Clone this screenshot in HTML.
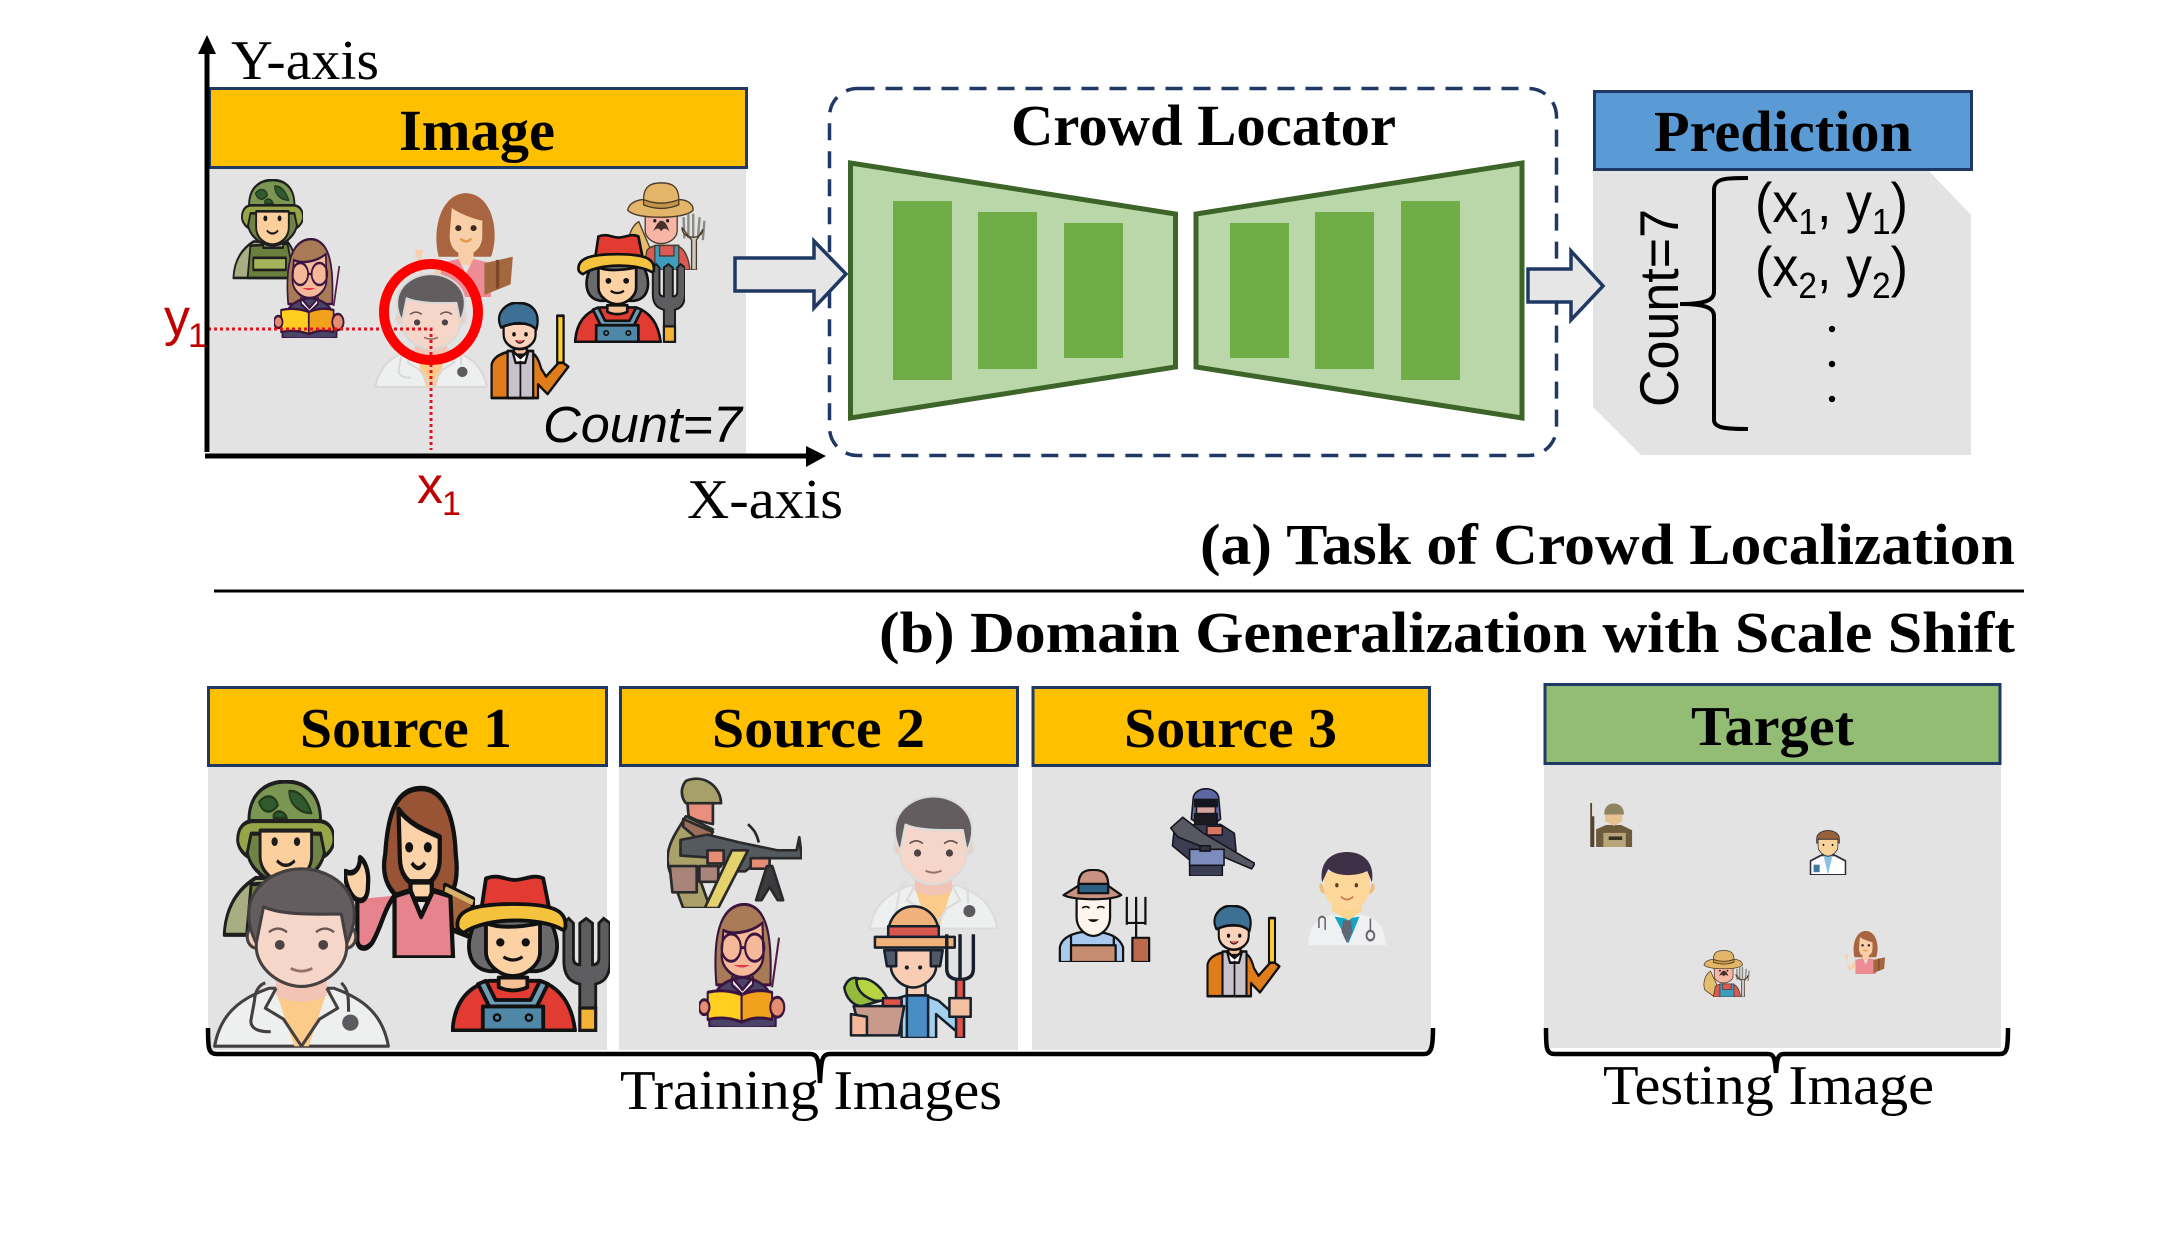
<!DOCTYPE html>
<html><head><meta charset="utf-8"><style>
html,body{margin:0;padding:0;background:#fff}
svg{display:block}
.s{font-family:"Liberation Serif",serif}
.a{font-family:"Liberation Sans",sans-serif}
</style></head><body>
<svg width="2178" height="1247" viewBox="0 0 2178 1247" xmlns="http://www.w3.org/2000/svg">
<defs>
<symbol id="soldier" viewBox="0 0 100 100" preserveAspectRatio="none">
<g stroke="#1f1f1f" stroke-width="2.6" stroke-linejoin="round">
<path d="M2 98C3 82 12 70 30 62L78 62C88 70 92 85 92 98Z" fill="#a9ae82"/>
<path d="M22 98L26 66L78 64L88 98Z" fill="#6b7f3e"/>
<path d="M30 78H76V90H30Z" fill="#a5b45a"/>
<path d="M44 60H72V68H44Z" fill="#c4c98f"/>
<path d="M26 32C18 38 22 52 32 58C44 68 70 68 82 58C92 52 96 38 88 32Z" fill="#6f8347"/>
<path d="M24 26C24 8 40 1 57 1C74 1 88 8 88 26Z" fill="#7b9653"/>
<path d="M33 14C40 8 48 10 50 16C44 22 36 21 33 14ZM60 7C68 6 76 12 80 21C70 21 60 16 60 7ZM46 22C50 18 56 20 58 24H46Z" fill="#2f5a2e" stroke="#24381c" stroke-width="1.5"/>
<path d="M14 38C14 30 20 26 28 26H86C94 26 100 30 100 38C100 42 96 46 92 48L88 34H26L22 48C18 46 14 42 14 38Z" fill="#96a548"/>
<path d="M34 32H80V48C80 58 68 65 57 65C46 65 34 58 34 48Z" fill="#fbd09d"/>
</g>
<circle cx="47" cy="39" r="2.8" fill="#1c1c1c"/><circle cx="67" cy="39" r="2.8" fill="#1c1c1c"/>
<path d="M49 51Q57 57 65 51" fill="none" stroke="#1c1c1c" stroke-width="2.2"/>
</symbol>

<symbol id="woman" viewBox="0 0 100 100" preserveAspectRatio="none">
<g stroke="#111" stroke-width="3.2" stroke-linejoin="round">
<path d="M41 65C33 60 28 52 31 40C33 15 40 2 58 2C75 2 83 18 84 40C86 52 84 60 78 66Z" fill="#995435"/>
<path d="M41 14C48 22 60 26 72 30L72 42C72 52 65 58 57 58C49 58 42 52 42 42Z" fill="#fcd2a8"/>
<path d="M50 56H66V66H50Z" fill="#fcd2a8"/>
<path d="M76 58L97 66L96 88L76 82Z" fill="#a8643a"/>
<path d="M38 100V64L50 61L58 76L67 61L80 64L82 100Z" fill="#e6838d"/>
<path d="M38 64C30 72 28 82 22 90C18 96 9 96 10 88L10 66" fill="#e6838d"/>
<path d="M1 50C6 52 12 50 12 42C16 44 19 50 18 58C18 66 14 68 9 66C5 64 0 56 1 50Z" fill="#fcd2a8"/>
<path d="M76 60L97 68" stroke="#d9b36a" fill="none"/>
</g>
<circle cx="49" cy="36" r="3" fill="#111"/><circle cx="63" cy="36" r="3" fill="#111"/>
<path d="M51 45Q56 51 61 45" fill="none" stroke="#111" stroke-width="2.5"/>
</symbol>

<symbol id="womanb" viewBox="0 0 100 100" preserveAspectRatio="none">
<path d="M30 62C24 40 30 3 55 2C80 3 86 40 78 62Z" fill="#a8653f"/>
<path d="M42 16C50 22 62 26 70 28V42C70 54 62 60 55 60C47 60 40 54 40 42Z" fill="#f8cfa9"/>
<path d="M48 58H62V70H48Z" fill="#f8cfa9"/>
<path d="M32 100V68L48 64L55 78L62 64L78 68V100Z" fill="#ec8c94"/>
<path d="M32 68L20 85L12 72L16 56L8 55L12 70L18 94L32 84Z" fill="#f8cfa9"/>
<path d="M72 68L98 62L96 88L72 98Z" fill="#a5673e"/>
<path d="M84 65V92" stroke="#7d4728" stroke-width="3"/>
<circle cx="48" cy="35" r="2.8" fill="#3b2a20"/><circle cx="62" cy="35" r="2.8" fill="#3b2a20"/>
<path d="M50 45Q55 50 60 45" fill="none" stroke="#e69c4a" stroke-width="2.4"/>
</symbol>

<symbol id="teacher" viewBox="0 0 100 100" preserveAspectRatio="none">
<g stroke="#3a1540" stroke-width="2.4" stroke-linejoin="round">
<path d="M20 66C16 30 22 2 52 1C80 2 84 30 82 66Z" fill="#a87a56"/>
<path d="M12 100C10 72 25 62 50 60C75 62 90 72 88 100C70 101 30 101 12 100Z" fill="#4a4468"/>
<path d="M28 22C38 26 60 24 73 16L74 42C74 52 62 60 50 60C38 60 26 52 26 42Z" fill="#f5b99a"/>
<path d="M38 60L50 70L62 60L62 66L50 74L38 66Z" fill="#f3efe8"/>
<circle cx="37" cy="36" r="11" fill="none"/><circle cx="64" cy="36" r="11" fill="none"/>
<path d="M48 36H53" fill="none"/>
<path d="M10 72C22 70 34 70 49 74V96C34 92 22 92 10 94Z" fill="#ffce1f"/>
<path d="M49 74C62 70 74 70 84 72V94C72 92 62 92 49 96Z" fill="#f2a11c"/>
<circle cx="6" cy="84" r="6" fill="#e58d6e"/><circle cx="90" cy="84" r="8" fill="#e58d6e"/>
</g>
<path d="M92 28L84 68" stroke="#5a1b43" stroke-width="2.4"/>
<path d="M40 50Q50 54 58 50" fill="#e4344a"/>
</symbol>

<symbol id="doctor" viewBox="0 0 100 100" preserveAspectRatio="none">
<g stroke="currentColor" stroke-width="1.7" stroke-linejoin="round">
<path d="M2 99C5 82 15 73 32 67L68 67C85 73 95 82 98 99Z" fill="#eef0f0"/>
<path d="M37 67H63V72L54 99H46L37 72Z" fill="#fccb8a" stroke="none"/>
<path d="M36 60H64V71Q50 78 36 71Z" fill="#f2c4b5" stroke="none"/>
<path d="M36 67L30 78L40 84L50 99M64 67L70 78L60 84L50 99" fill="none"/>
<path d="M26 45C18 45 18 32 26 32ZM74 45C82 45 82 32 74 32Z" fill="#f3cdb8"/>
<path d="M25 16H75V44C75 56 62 66 50 66C38 66 25 56 25 44Z" fill="#f6d6c9"/>
<path d="M25 42C12 16 32 1 50 1C68 1 88 16 75 42L72 26C60 26 40 27 29 22Z" fill="#635d60"/>
<path d="M30 64C24 66 24 74 24 74L22 85C22 91 30 91 33 91M72 64C76 68 76 72 76 80" fill="none"/>
</g>
<circle cx="77" cy="86" r="4.5" fill="#5b5b5f"/>
<circle cx="38" cy="43" r="2.7" fill="#4a4446"/><circle cx="62" cy="43" r="2.7" fill="#4a4446"/>
<path d="M44 56Q50 59 56 56" fill="none" stroke="#99706a" stroke-width="1.5"/>
<path d="M32 36Q37 32 42 36M58 36Q63 32 68 36" fill="none" stroke="#6a5550" stroke-width="1.3"/>
</symbol>

<symbol id="boy" viewBox="0 0 100 100" preserveAspectRatio="none">
<g stroke="#111" stroke-width="2.8" stroke-linejoin="round">
<path d="M2 98V64C4 56 14 52 28 50H46C56 52 60 56 64 68L70 76L88 60L98 66L72 94L60 84V98Z" fill="#e07c1a"/>
<path d="M22 50H54V98H22Z" fill="#c7c2cc"/>
<path d="M30 42H46V54H30Z" fill="#f5bc9d"/>
<path d="M17 22H57V33C57 42 47 48 37 48C27 48 17 42 17 33Z" fill="#fbd2bb"/>
<path d="M14 26C4 10 24 -1 36 1C52 1 64 10 58 28C48 20 30 20 14 26Z" fill="#3e6f94"/>
<path d="M84 14H92V62H84Z" fill="#ffd02e"/>
<path d="M28 50L38 57L48 50L44 62H32Z" fill="#fff"/>
</g>
<path d="M38 60V98" stroke="#111" stroke-width="2.2"/>
<circle cx="30" cy="33" r="2.2" fill="#111"/><circle cx="45" cy="33" r="2.2" fill="#111"/>
<path d="M32 39Q37 45 43 39" fill="#e55" stroke="#111" stroke-width="1.2"/>
</symbol>

<symbol id="farmerF" viewBox="0 0 100 100" preserveAspectRatio="none">
<path d="M71 32L74 29L77 32V54Q77 58 81 58V32L85 29L89 32V58Q93 58 93 54V32L96 29L100 32V56Q100 68 91 70V85H81V70Q71 68 71 56Z" fill="#5d5d5f" stroke="#1a1a1a" stroke-width="1.8"/>
<path d="M81 85H91V99H81Z" fill="#f5b335" stroke="#1a1a1a" stroke-width="2"/>
<g stroke="#111" stroke-width="2.4" stroke-linejoin="round">
<path d="M1 99C2 82 10 72 24 68L56 68C68 72 76 82 78 99Z" fill="#e23b32"/>
<path d="M17 70L24 84H54L61 70L56 68L50 80H28L22 68Z" fill="#6e9cb5"/>
<path d="M20 84H58V99H20Z" fill="#4f87a6"/>
<path d="M30 66H48V72Q39 76 30 72Z" fill="#f4c094"/>
<path d="M16 30C8 45 10 60 24 62L54 62C68 60 70 45 62 30Z" fill="#6a6a6c"/>
<path d="M22 32C32 36 46 34 56 32V50C56 58 47 65 39 65C31 65 22 58 22 50Z" fill="#fcd2a5"/>
<path d="M19 24L22 4C30 1 34 5 40 5C46 5 52 1 58 4L62 24Z" fill="#e23b32"/>
<path d="M4 33C4 24 14 20 39 20C64 20 72 24 72 33C72 35 72 36 70 36C56 28 22 28 8 38C6 37 4 36 4 33Z" fill="#f5c23d"/>
</g>
<circle cx="31" cy="44" r="2.6" fill="#111"/><circle cx="47" cy="44" r="2.6" fill="#111"/>
<path d="M33 53Q39 57 45 53" fill="none" stroke="#111" stroke-width="2"/>
<circle cx="29" cy="91" r="2" fill="none" stroke="#111" stroke-width="1.5"/><circle cx="49" cy="91" r="2" fill="none" stroke="#111" stroke-width="1.5"/>
</symbol>

<symbol id="farmerM" viewBox="0 0 100 100" preserveAspectRatio="none">
<g stroke="#4a3a28" stroke-width="1.6" stroke-linejoin="round">
<path d="M4 85C-2 70 6 50 16 45L30 75L22 98Z" fill="#e4bd6f"/>
<path d="M22 100L26 78C30 72 40 72 44 72L62 72C72 74 78 84 80 100Z" fill="#dc5a55"/>
<path d="M36 72V100H66V72H60V84H42V72Z" fill="#3d9dbd"/>
<path d="M24 38H64V55C64 65 52 70 44 70C36 70 24 65 24 55Z" fill="#f7b5a6"/>
<path d="M2 32C4 22 18 20 22 20C22 4 32 1 44 1C56 1 66 4 66 20C72 20 84 22 84 32C78 38 60 40 44 40C26 40 8 38 2 32Z" fill="#e3b568"/>
<path d="M22 20Q44 28 66 20V26Q44 34 22 26Z" fill="#c29548"/>
<path d="M73 64L72 40M78 64V36M84 64V36M90 64L92 40M96 66L98 44" stroke="#8a8a86" stroke-width="3"/>
<path d="M70 52C70 66 96 66 96 54L88 66L88 100H82V66Z" fill="#c9c9c1"/>
</g>
<path d="M34 56Q40 44 44 44Q50 44 54 56Q48 50 44 56Q40 50 34 56Z" fill="#45302a"/>
<circle cx="36" cy="44" r="2" fill="#222"/><circle cx="52" cy="44" r="2" fill="#222"/>
</symbol>

<symbol id="soldier2" viewBox="0 0 100 100" preserveAspectRatio="none">
<g stroke="#2a2a2a" stroke-width="2" stroke-linejoin="round">
<path d="M8 40L14 30L34 40L24 50H30L40 58V68L25 80L32 100L12 100L2 72C-2 60 2 50 8 40Z" fill="#a9a06a"/>
<path d="M15 18H34V36L22 33L16 30Z" fill="#e88f7d"/>
<path d="M14 3C28 -3 40 8 40 20H14C10 15 10 8 14 3Z" fill="#a7a06a"/>
<path d="M12 32L34 42L28 52L12 38Z" fill="#9c6f5d"/>
<path d="M2 68H22L22 88H4ZM24 68H38V80H24Z" fill="#a9847a"/>
<path d="M10 48L30 44L54 50L82 56L96 56L98 46L100 62L70 62L58 72H46L38 62L10 60Z" fill="#555a5f"/>
<path d="M48 56L60 56L38 100H28Z" fill="#e4d26d"/>
<path d="M30 56H42V66H30ZM62 62H76V70H62Z" fill="#e58c74"/>
<path d="M74 68L66 94H70L76 84L82 94H86L78 68Z" fill="#3c3c40"/>
<path d="M60 36C64 40 66 42 68 50" fill="none"/>
</g>
</symbol>

<symbol id="farmer3" viewBox="0 0 100 100" preserveAspectRatio="none">
<g stroke="#17202b" stroke-width="1.9" stroke-linejoin="round">
<path d="M48 60H62V72H48Z" fill="#f9cdb4"/>
<path d="M34 72L48 68H62L72 72L90 88L84 94L70 82V100H44V72Z" fill="#a4d0ef"/>
<path d="M48 68V100H64V68Z" fill="#4a8cc4"/>
<path d="M36 34H70V46C70 55 60 62 53 62C44 62 36 54 36 46Z" fill="#f9cdb4"/>
<path d="M31 34H40V46H33ZM66 34H75L73 46H66Z" fill="#505a67"/>
<path d="M53 1C64 1 72 10 72 22H34C34 10 42 1 53 1Z" fill="#f0b27a"/>
<path d="M34 16H72V24H34Z" fill="#d8574f"/>
<path d="M24 24H84V32H24Z" fill="#f0b27a"/>
<path d="M78 22V48Q78 56 88 56Q98 56 98 48V22M88 22V56" fill="none" stroke-width="2.6"/>
<path d="M85 56H91V100H85Z" fill="#e05148"/>
<path d="M80 70H96V84H80Z" fill="#f3c0a1"/>
<path d="M1 62C6 48 20 56 28 72L14 76C8 76 2 70 1 62Z" fill="#95bb3c"/>
<path d="M10 56C22 52 32 66 34 72H24C18 70 10 66 10 56Z" fill="#b6d341"/>
<path d="M8 76H46L42 98H14Z" fill="#c79a8b"/>
<path d="M30 70H44V76H30Z" fill="#e05148"/>
<path d="M6 82L18 84V98H6Z" fill="#f3b99a"/>
</g>
<circle cx="48" cy="47" r="1.6" fill="#17202b"/><circle cx="58" cy="47" r="1.6" fill="#17202b"/>
</symbol>

<symbol id="swat" viewBox="0 0 100 100" preserveAspectRatio="none">
<g stroke="#15151d" stroke-width="1.8" stroke-linejoin="round">
<path d="M28 14C28 -2 58 -2 58 14L60 36L50 44H38L26 36Z" fill="#5d67a3"/>
<path d="M30 14H56V22H30Z" fill="#14161e"/>
<path d="M32 22H54V30H32Z" fill="#d8a49d"/>
<path d="M30 30H56V44H30Z" fill="#1a1a20"/>
<path d="M6 48L30 42H60L76 52L78 72L62 80V100H24V82L4 66Z" fill="#3c3d53"/>
<path d="M44 44H62V54H44Z" fill="#d67564"/>
<path d="M2 46L16 34L40 52L100 86L96 92L62 78L46 70L10 56Z" fill="#575861"/>
<path d="M24 70H64V88H24Z" fill="#7b8cbd"/>
<path d="M36 66H48V72H36Z" fill="#33343f"/>
</g>
</symbol>

<symbol id="farmer4" viewBox="0 0 100 100" preserveAspectRatio="none">
<g stroke="#111" stroke-width="2.4" stroke-linejoin="round">
<path d="M2 100V84C4 74 14 70 24 68L46 68C58 70 66 74 70 84V100Z" fill="#a9c9ef"/>
<path d="M14 72V84M60 72V84" fill="none"/>
<path d="M14 82H62V100H14Z" fill="#c78d72"/>
<path d="M20 28H56V52C56 64 46 72 38 72C30 72 20 64 20 52Z" fill="#fff5ee"/>
<path d="M22 18C22 4 28 1 38 1C48 1 54 4 54 18L68 28C60 34 16 34 6 28Z" fill="#c89182"/>
<path d="M22 16H54V26H22Z" fill="#2d5f80"/>
<path d="M74 30V60M84 30V60M94 30V60M74 58H94M84 60V100" fill="none" stroke-width="2.4"/>
<path d="M80 74H98V100H80Z" fill="#bb6a4c"/>
</g>
<path d="M26 42Q30 39 34 42M42 42Q46 39 50 42" fill="none" stroke="#111" stroke-width="1.8"/>
<path d="M32 54Q38 60 44 54" fill="#111"/>
</symbol>

<symbol id="doctor2" viewBox="0 0 100 100" preserveAspectRatio="none">
<path d="M0 98C2 76 12 70 32 66H68C88 70 98 76 100 98Z" fill="#eff0f1"/>
<path d="M50 70L66 68L52 96L34 68Z" fill="#17a3c4"/>
<path d="M45 72H55L57 84L50 96L43 84Z" fill="#5f6773"/>
<path d="M31 55H69V62L52 72L31 62Z" fill="#fbd492"/>
<path d="M18 33C12 33 14 44 22 44ZM82 33C88 33 86 44 78 44Z" fill="#f0bc76"/>
<path d="M21 21H79V38C79 52 64 62 50 62C36 62 21 52 21 38Z" fill="#fdd89a"/>
<path d="M18 32C14 10 30 0 50 0C70 0 86 10 82 32L76 20C62 26 36 26 26 18Z" fill="#3e3046"/>
<circle cx="37" cy="35" r="2.2" fill="#5a3d28"/><circle cx="62" cy="35" r="2.2" fill="#5a3d28"/>
<path d="M42 47Q50 53 58 47" fill="none" stroke="#d17c58" stroke-width="2"/>
<path d="M14 80V70Q18 66 22 70V82M80 70V82" fill="none" stroke="#6a6570" stroke-width="2"/>
<circle cx="80" cy="88" r="5" fill="none" stroke="#6a6570" stroke-width="2.4"/>
</symbol>

<symbol id="soldier3" viewBox="0 0 100 100" preserveAspectRatio="none">
<path d="M5 100V0H9V30H14V100Z" fill="#55452e"/>
<path d="M18 100V60L40 50H74L98 62V100Z" fill="#6e5a3d"/>
<path d="M38 24H76V42L58 52L38 42Z" fill="#e8c193"/>
<path d="M57 1C70 1 80 10 80 26H36C36 10 44 1 57 1Z" fill="#8f8462"/>
<path d="M34 68H84V100H34Z" fill="#b9a47a"/>
<path d="M46 76H76V84H46Z" fill="#3a2f20"/>
</symbol>

<symbol id="doc3" viewBox="0 0 100 100" preserveAspectRatio="none">
<path d="M4 100V70L32 58H68L96 70V100Z" fill="#fff" stroke="#2c2c3a" stroke-width="4"/>
<path d="M38 58H62L50 100Z" fill="#8bc1e5"/>
<path d="M20 22C22 0 78 0 80 22V32H20Z" fill="#9a6239" stroke="#2c2c3a" stroke-width="2"/>
<path d="M24 24H76V40C76 50 60 60 50 60C40 60 24 50 24 40Z" fill="#fbd49c" stroke="#2c2c3a" stroke-width="2"/>
<path d="M12 78H28V94H12Z" fill="#3f7aa3"/>
<circle cx="38" cy="36" r="2.5" fill="#222"/><circle cx="62" cy="36" r="2.5" fill="#222"/>
</symbol>
</defs>

<!-- Image panel -->
<rect x="210" y="169" width="536" height="285" fill="#e3e3e3"/>
<rect x="209.500" y="88.500" width="537" height="79" fill="#ffc000" stroke="#1f3864" stroke-width="3"/>
<text class="s" x="399" y="150" font-size="58" font-weight="bold" textLength="156" lengthAdjust="spacingAndGlyphs">Image</text>

<use href="#soldier" x="232" y="179" width="71" height="101"/>
<use href="#teacher" x="274" y="238" width="71" height="100"/>
<use href="#womanb" x="406" y="191" width="109" height="106"/>
<use href="#doctor" x="373" y="273" width="116" height="115" style="color:#d8d8d8"/>
<use href="#farmerM" x="626" y="182" width="80" height="88"/>
<use href="#boy" x="490" y="302" width="80" height="98"/>
<use href="#farmerF" x="574" y="232" width="111" height="111"/>

<ellipse cx="431" cy="312" rx="47" ry="48" fill="none" stroke="#ff0000" stroke-width="10"/>
<path d="M208 329H431V450" fill="none" stroke="#e3121c" stroke-width="3" stroke-dasharray="3 3"/>

<path d="M207 452V48" stroke="#000" stroke-width="5"/>
<path d="M207 35L198 54H216Z" fill="#000"/>
<path d="M205 456H808" stroke="#000" stroke-width="5"/>
<path d="M826 456L806 446V467Z" fill="#000"/>

<text class="s" x="231" y="79" font-size="56" textLength="148" lengthAdjust="spacingAndGlyphs">Y-axis</text>
<text class="s" x="687" y="518" font-size="56" textLength="156" lengthAdjust="spacingAndGlyphs">X-axis</text>
<text class="a" x="543" y="442" font-size="51" font-style="italic" textLength="199" lengthAdjust="spacingAndGlyphs">Count=7</text>
<text class="a" x="164" y="335" font-size="52" fill="#c00000">y</text>
<text class="a" x="188" y="347" font-size="34" fill="#c00000">1</text>
<text class="a" x="417" y="503" font-size="52" fill="#c00000">x</text>
<text class="a" x="442" y="515" font-size="34" fill="#c00000">1</text>

<!-- Crowd locator -->
<rect x="829.500" y="88.500" width="727" height="367" rx="28" fill="none" stroke="#1f3864" stroke-width="3.500" stroke-dasharray="17 11"/>
<path d="M735 258H814V241L846 274L814 308V291H735Z" fill="#e6e6e6" stroke="#1f3864" stroke-width="3.500"/>
<text class="s" x="1011" y="145" font-size="58" font-weight="bold" textLength="385" lengthAdjust="spacingAndGlyphs">Crowd Locator</text>
<path d="M850.500 163L1175.500 214V367L850.500 418Z" fill="#b9d7a8" stroke="#3e6529" stroke-width="5"/>
<path d="M1196 214L1522 163V418L1196 367Z" fill="#b9d7a8" stroke="#3e6529" stroke-width="5"/>
<g fill="#70ad47">
<rect x="893" y="201" width="59" height="179"/>
<rect x="978" y="212" width="59" height="157"/>
<rect x="1064" y="223" width="59" height="135"/>
<rect x="1230" y="223" width="59" height="135"/>
<rect x="1315" y="212" width="59" height="157"/>
<rect x="1401" y="201" width="59" height="179"/>
</g>

<!-- Prediction -->
<path d="M1593 171H1929L1971 215V455H1641L1593 407Z" fill="#e3e3e3"/>
<rect x="1594.500" y="91.500" width="377" height="78" fill="#5b9bd5" stroke="#1f3864" stroke-width="3"/>
<text class="s" x="1654" y="151" font-size="58" font-weight="bold" textLength="258" lengthAdjust="spacingAndGlyphs">Prediction</text>
<path d="M1528 269H1571V251L1603 286L1571 320V302H1528Z" fill="#e6e6e6" stroke="#1f3864" stroke-width="3.500"/>
<path d="M1748 178C1726 178 1714 178 1714 190V292C1714 300 1706 304 1680 304C1706 304 1714 308 1714 316V420C1714 428 1726 429 1748 429" fill="none" stroke="#000" stroke-width="4"/>
<text class="a" transform="translate(1678,407) rotate(-90)" font-size="55" textLength="198" lengthAdjust="spacingAndGlyphs">Count=7</text>
<g transform="translate(1755,222) scale(.93,1)"><text class="a" font-size="56">(x<tspan font-size="36" dy="12">1</tspan><tspan dy="-12">, y</tspan><tspan font-size="36" dy="12">1</tspan><tspan dy="-12">)</tspan></text></g>
<g transform="translate(1755,286) scale(.93,1)"><text class="a" font-size="56">(x<tspan font-size="36" dy="12">2</tspan><tspan dy="-12">, y</tspan><tspan font-size="36" dy="12">2</tspan><tspan dy="-12">)</tspan></text></g>
<circle cx="1832" cy="329" r="3.200"/><circle cx="1832" cy="364" r="3.200"/><circle cx="1832" cy="399" r="3.200"/>

<!-- Titles -->
<text class="s" x="1200" y="564" font-size="58" font-weight="bold" textLength="815" lengthAdjust="spacingAndGlyphs">(a) Task of Crowd Localization</text>
<path d="M214 591H2024" stroke="#000" stroke-width="3"/>
<text class="s" x="879" y="652" font-size="58" font-weight="bold" textLength="1136" lengthAdjust="spacingAndGlyphs">(b) Domain Generalization with Scale Shift</text>

<!-- Sources -->
<rect x="208" y="765" width="399" height="285" fill="#e3e3e3"/>
<rect x="619" y="765" width="399" height="285" fill="#e3e3e3"/>
<rect x="1032" y="765" width="399" height="285" fill="#e3e3e3"/>
<rect x="1544" y="763" width="457" height="285" fill="#e3e3e3"/>
<rect x="208.500" y="687.500" width="398" height="78" fill="#ffc000" stroke="#1f3864" stroke-width="3"/>
<rect x="620.500" y="687.500" width="397" height="78" fill="#ffc000" stroke="#1f3864" stroke-width="3"/>
<rect x="1033" y="687.500" width="396.500" height="78" fill="#ffc000" stroke="#1f3864" stroke-width="3"/>
<rect x="1545" y="684.500" width="455" height="79" fill="#93bd74" stroke="#1f3864" stroke-width="3"/>
<text class="s" x="300" y="747" font-size="56" font-weight="bold" textLength="212" lengthAdjust="spacingAndGlyphs">Source 1</text>
<text class="s" x="712" y="747" font-size="56" font-weight="bold" textLength="213" lengthAdjust="spacingAndGlyphs">Source 2</text>
<text class="s" x="1124" y="747" font-size="56" font-weight="bold" textLength="213" lengthAdjust="spacingAndGlyphs">Source 3</text>
<text class="s" x="1691" y="745" font-size="56" font-weight="bold" textLength="163" lengthAdjust="spacingAndGlyphs">Target</text>

<!-- Source 1 icons -->
<use href="#soldier" x="222" y="780" width="112" height="158"/>
<use href="#woman" x="344" y="785" width="133" height="173"/>
<use href="#doctor" x="211" y="867" width="181" height="181" style="color:#44403f"/>
<use href="#farmerF" x="451" y="872" width="159" height="160"/>
<!-- Source 2 icons -->
<use href="#soldier2" x="667" y="777" width="135" height="131"/>
<use href="#doctor" x="867" y="795" width="133" height="135" style="color:#dcdcdc"/>
<use href="#teacher" x="699" y="903" width="87" height="124"/>
<use href="#farmer3" x="843" y="905" width="133" height="133"/>
<!-- Source 3 icons -->
<use href="#swat" x="1169" y="787" width="86" height="89"/>
<use href="#farmer4" x="1058" y="869" width="93" height="93"/>
<use href="#boy" x="1206" y="905" width="75" height="93"/>
<use href="#doctor2" x="1308" y="852" width="78" height="95"/>
<!-- Target icons -->
<use href="#soldier3" x="1588" y="803" width="45" height="44"/>
<use href="#doc3" x="1809" y="828" width="38" height="47"/>
<use href="#farmerM" x="1703" y="950" width="47" height="47"/>
<use href="#womanb" x="1841" y="930" width="45" height="44"/>

<!-- Braces -->
<path d="M208 1028C208 1048 208 1054 217 1054H810C818 1054 819 1060 820 1083C821 1060 822 1054 830 1054H1424C1431 1054 1433 1048 1433 1028" fill="none" stroke="#000" stroke-width="4.500"/>
<path d="M1546 1028C1546 1048 1546 1054 1555 1054H1768C1774 1054 1775 1058 1776 1073C1777 1058 1778 1054 1784 1054H2000C2007 1054 2008 1048 2008 1028" fill="none" stroke="#000" stroke-width="4.500"/>
<text class="s" x="620" y="1109" font-size="56" textLength="382" lengthAdjust="spacingAndGlyphs">Training Images</text>
<text class="s" x="1603" y="1104" font-size="56" textLength="331" lengthAdjust="spacingAndGlyphs">Testing Image</text>
</svg>
</body></html>
